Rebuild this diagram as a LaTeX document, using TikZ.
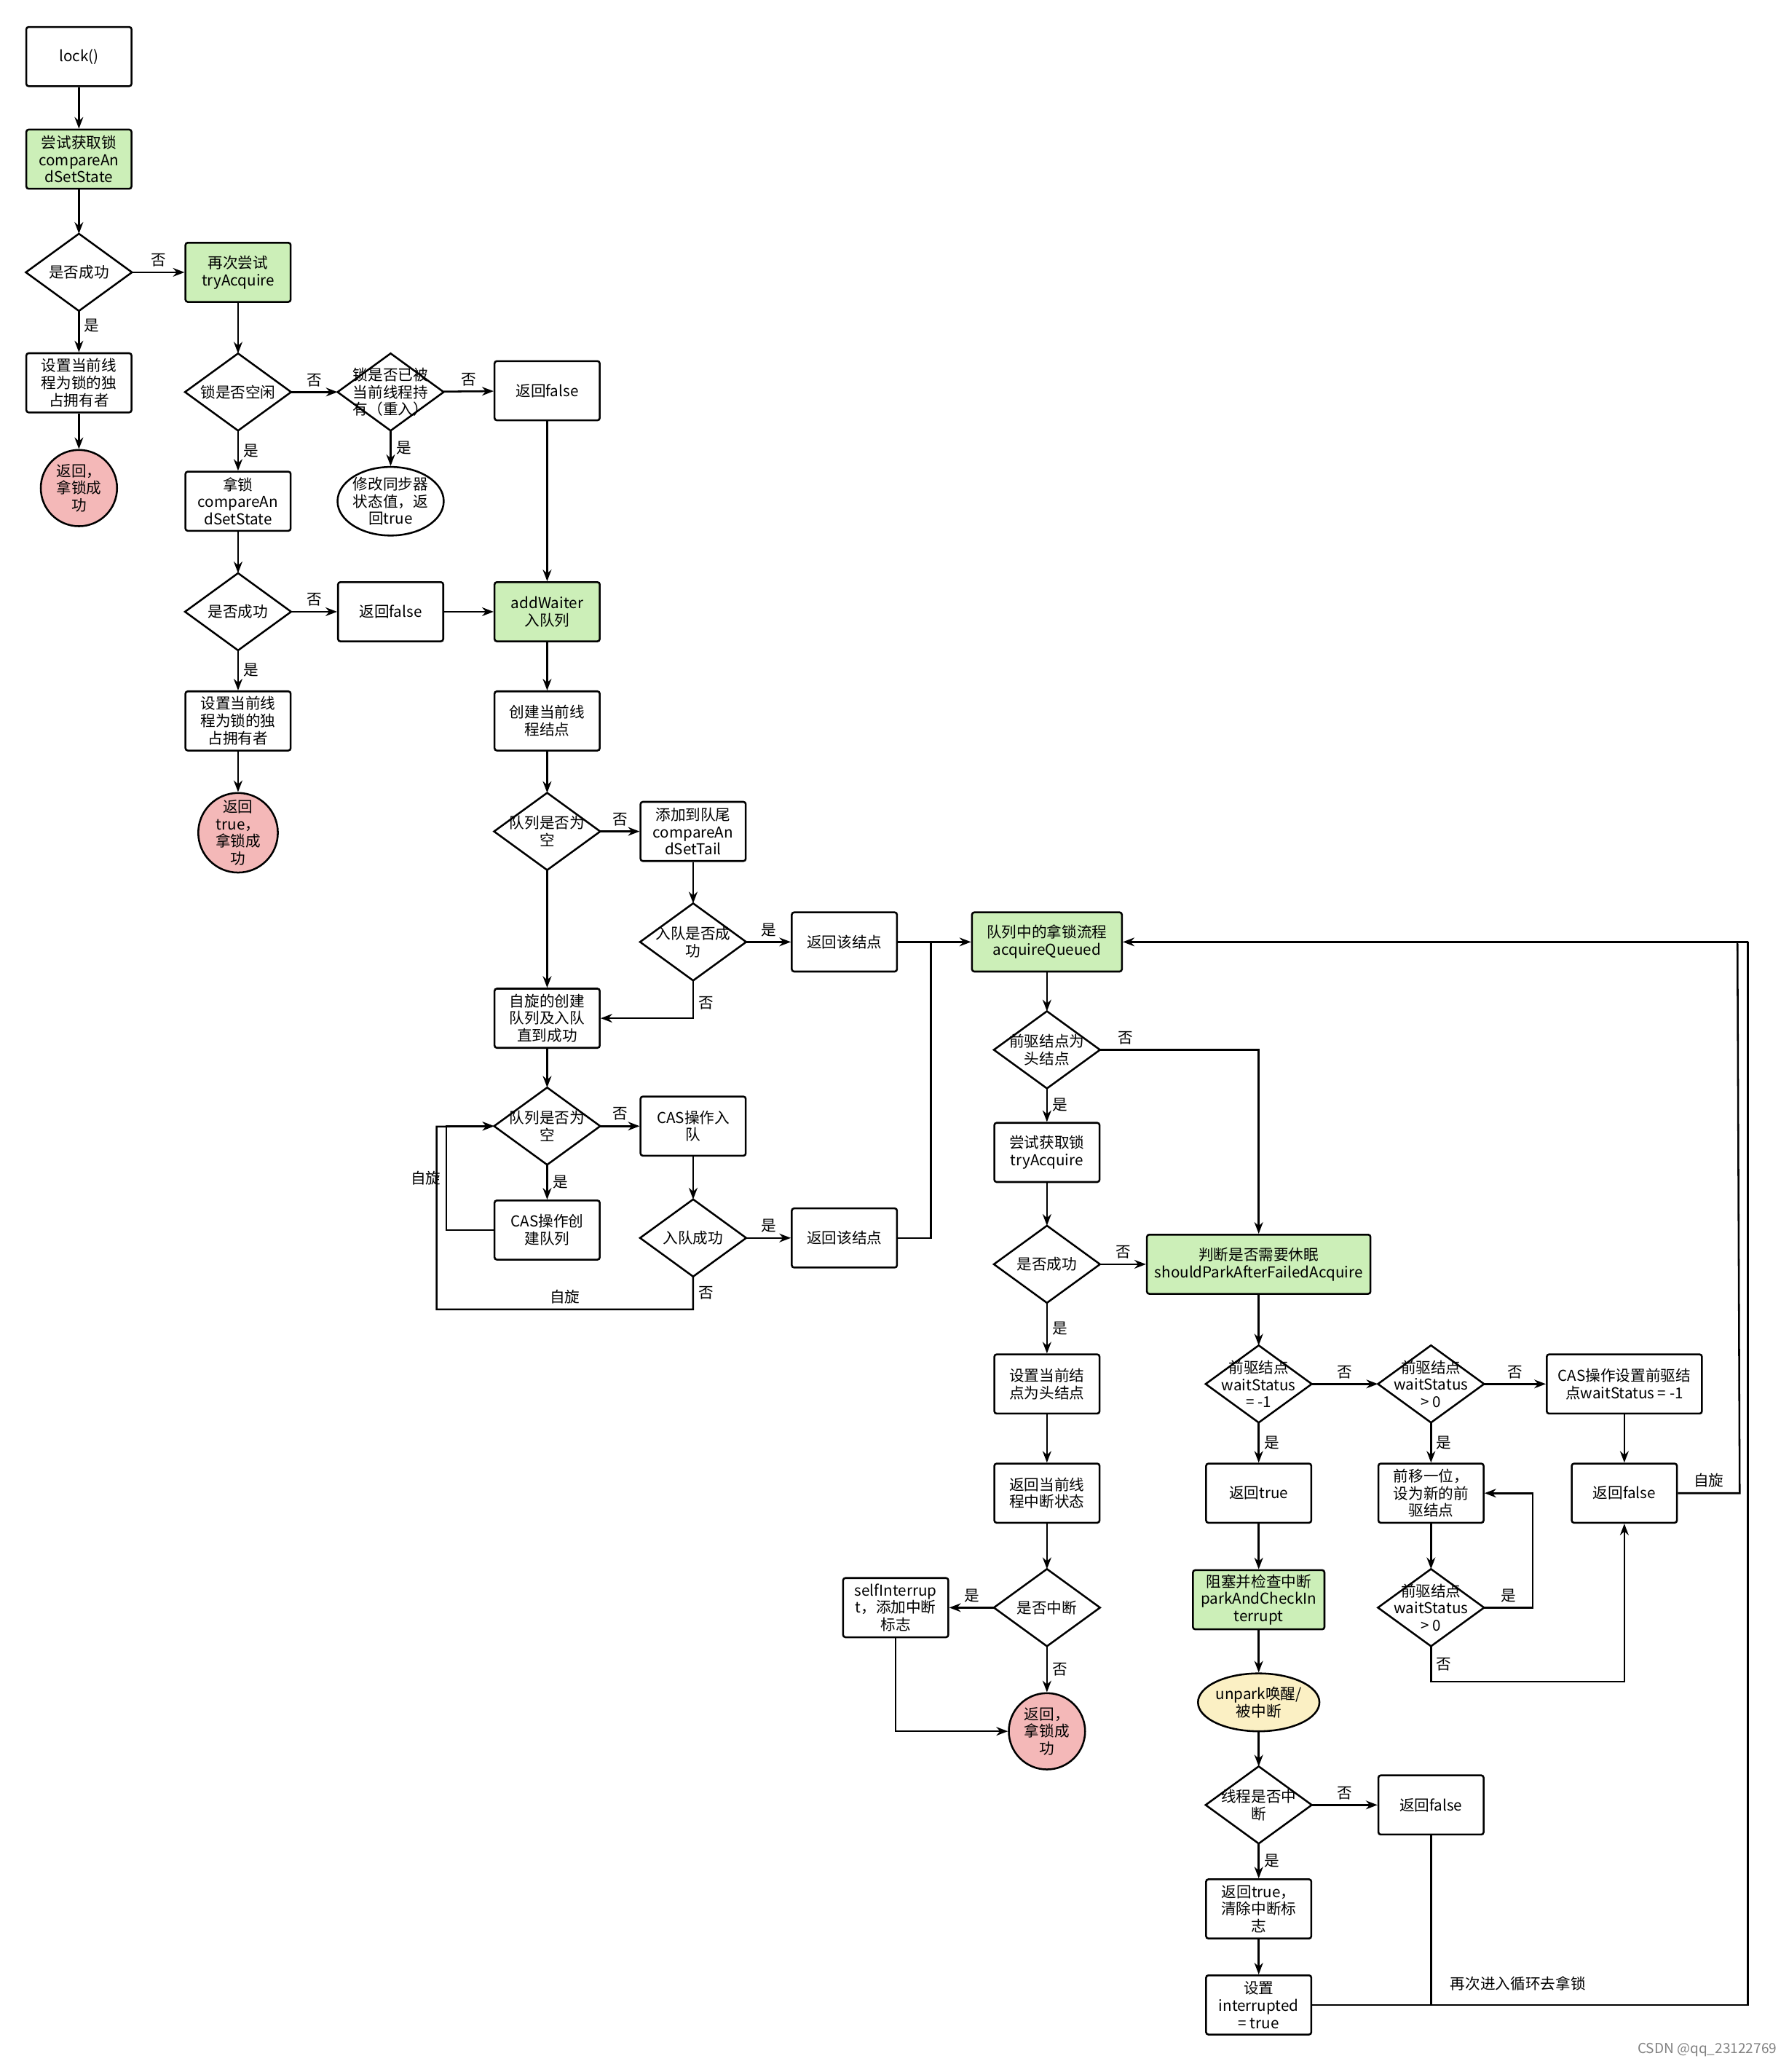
\documentclass[tikz,border=0pt]{standalone}
\usepackage{fontspec}
\setmainfont{Noto Sans CJK SC}
\usetikzlibrary{arrows.meta,shapes.geometric}
\definecolor{gfill}{HTML}{CCEFB8}
\definecolor{pfill}{HTML}{F4B8B8}
\definecolor{yfill}{HTML}{FBF0C4}
\tikzset{
  box/.style={draw,line width=0.8pt,rounded corners=1pt,minimum width=1.6cm,minimum height=0.9cm,
    align=center,inner sep=1pt,font=\fontsize{6.5}{7.5}\selectfont},
  gbox/.style={box,fill=gfill},
  dia/.style={minimum width=1.6cm,minimum height=1.16cm,inner sep=0,align=center,
    font=\fontsize{6.5}{7.5}\selectfont,
    append after command={\pgfextra{\draw[line width=0.8pt] (\tikzlastnode.west)--(\tikzlastnode.north)
      --(\tikzlastnode.east)--(\tikzlastnode.south)--cycle;}}},
  endc/.style={draw,circle,fill=pfill,line width=0.8pt,minimum size=1.16cm,inner sep=0,align=center,
    font=\fontsize{6.5}{7.5}\selectfont},
  ell/.style={draw,ellipse,line width=0.8pt,minimum width=1.6cm,minimum height=0.88cm,inner sep=0,
    align=center,font=\fontsize{6.5}{7.5}\selectfont},
  arr/.style={-{Stealth[length=5pt]},line width=0.8pt},
  lbl/.style={font=\fontsize{6.5}{7.5}\selectfont,inner sep=2pt}
}
\begin{document}
\begin{tikzpicture}[x=0.02cm,y=-0.02cm]
\useasboundingbox (0,0) rectangle (1360,1575);
% left column
\node[box] (lock) at (60,43) {lock()};
\node[gbox] (try1) at (60,121) {尝试获取锁\\compareAn\\dSetState};
\node[dia] (d1) at (60,207) {是否成功};
\node[box] (set1) at (60,291) {设置当前线\\程为锁的独\\占拥有者};
\node[endc] (ret1) at (60,371) {返回，\\拿锁成\\功};
% tryAcquire
\node[gbox] (tryAcq) at (181,207) {再次尝试\\tryAcquire};
\node[dia] (d2) at (181,298) {锁是否空闲};
\node[dia] (d3) at (297,298) {锁是否已被\\当前线程持\\有（重入）};
\node[ell] (modst) at (297,381) {修改同步器\\状态值，返\\回true};
\node[box] (rf1) at (416,297) {返回false};
\node[box] (grab) at (181,381) {拿锁\\compareAn\\dSetState};
\node[dia] (d4) at (181,465) {是否成功};
\node[box] (rf2) at (297,465) {返回false};
\node[box] (set2) at (181,548) {设置当前线\\程为锁的独\\占拥有者};
\node[endc] (ret2) at (181,633) {返回\\true，\\拿锁成\\功};
% addWaiter
\node[gbox] (addW) at (416,465) {addWaiter\\入队列};
\node[box] (create) at (416,548) {创建当前线\\程结点};
\node[dia] (d5) at (416,632) {队列是否为\\空};
\node[box] (addTail) at (527,632) {添加到队尾\\compareAn\\dSetTail};
\node[dia] (d6) at (527,716) {入队是否成\\功};
\node[box] (retN1) at (642,716) {返回该结点};
\node[box] (spin) at (416,774) {自旋的创建\\队列及入队\\直到成功};
\node[dia] (d7) at (416,856) {队列是否为\\空};
\node[box] (casQ) at (527,856) {CAS操作入\\队};
\node[box] (casC) at (416,935) {CAS操作创\\建队列};
\node[dia] (d8) at (527,941) {入队成功};
\node[box] (retN2) at (642,941) {返回该结点};
% acquireQueued
\node[gbox,minimum width=2.28cm] (acqQ) at (796,716) {队列中的拿锁流程\\acquireQueued};
\node[dia] (d9) at (796,798) {前驱结点为\\头结点};
\node[box] (tryA2) at (796,876) {尝试获取锁\\tryAcquire};
\node[dia] (d10) at (796,961) {是否成功};
\node[gbox,minimum width=3.4cm] (should) at (957,961) {判断是否需要休眠\\shouldParkAfterFailedAcquire};
\node[box] (setHead) at (796,1052) {设置当前结\\点为头结点};
\node[box] (retInt) at (796,1135) {返回当前线\\程中断状态};
\node[dia] (d11) at (796,1222) {是否中断};
\node[box] (self) at (681,1222) {selfInterrup\\t，添加中断\\标志};
\node[endc] (ret3) at (796,1316) {返回，\\拿锁成\\功};
% shouldPark
\node[dia] (d12) at (957,1052) {前驱结点\\waitStatus\\= -1};
\node[dia] (d13) at (1088,1052) {前驱结点\\waitStatus\\> 0};
\node[box,minimum width=2.36cm] (casSet) at (1235,1052) {CAS操作设置前驱结\\点waitStatus = -1};
\node[box] (rtrue) at (957,1135) {返回true};
\node[box] (move) at (1088,1135) {前移一位，\\设为新的前\\驱结点};
\node[box] (rf3) at (1235,1135) {返回false};
\node[dia] (d14) at (1088,1222) {前驱结点\\waitStatus\\> 0};
\node[gbox,minimum width=2cm] (park) at (957,1216) {阻塞并检查中断\\parkAndCheckIn\\terrupt};
\node[ell,fill=yfill] (unpark) at (957,1294) {unpark唤醒/\\被中断};
\node[dia] (d15) at (957,1372) {线程是否中\\断};
\node[box] (rf4) at (1088,1372) {返回false};
\node[box] (clr) at (957,1451) {返回true，\\清除中断标\\志};
\node[box] (setI) at (957,1524) {设置\\interrupted\\= true};
\coordinate (jA) at (1321,716);
\coordinate (jB) at (1329,716);
\node[font=\fontsize{6}{7}\selectfont,text=gray] (mark) at (1298,1558) {CSDN @qq\_23122769};

\draw[arr] (lock) -- (try1);
\draw[arr] (try1) -- (d1);
\draw[arr] (d1) -- node[lbl,pos=0.35,right]{是} (set1);
\draw[arr] (set1) -- (ret1);
\draw[arr] (d1) -- node[lbl,above]{否} (tryAcq);
\draw[arr] (tryAcq) -- (d2);
\draw[arr] (d2) -- node[lbl,above]{否} (d3);
\draw[arr] (d3) -- node[lbl,above]{否} (rf1);
\draw[arr] (d3) -- node[lbl,right]{是} (modst);
\draw[arr] (d2) -- node[lbl,right]{是} (grab);
\draw[arr] (grab) -- (d4);
\draw[arr] (d4) -- node[lbl,above]{否} (rf2);
\draw[arr] (rf2) -- (addW);
\draw[arr] (rf1) -- (addW);
\draw[arr] (d4) -- node[lbl,right]{是} (set2);
\draw[arr] (set2) -- (ret2);
\draw[arr] (addW) -- (create);
\draw[arr] (create) -- (d5);
\draw[arr] (d5) -- node[lbl,above]{否} (addTail);
\draw[arr] (addTail) -- (d6);
\draw[arr] (d6) -- node[lbl,above]{是} (retN1);
\draw[arr] (d6.south) |- node[lbl,pos=0.3,right]{否} (spin.east);
\draw[arr] (d5) -- (spin);
\draw[arr] (spin) -- (d7);
\draw[arr] (d7) -- node[lbl,above]{否} (casQ);
\draw[arr] (d7) -- node[lbl,right]{是} (casC);
\draw[arr] (casQ) -- (d8);
\draw[arr] (d8) -- node[lbl,above]{是} (retN2);
\draw[arr] (casC.west) -- ++(-36,0) |- node[lbl,pos=0.25,left]{自旋} (d7.west);
\draw[arr] (d8.south) -- node[lbl,right]{否} ++(0,25) -| node[lbl,pos=0.25,above]{自旋} ++(-195,-139) -- (d7.west);
\draw[arr] (retN1) -- (acqQ);
\draw[line width=0.8pt] (retN2.east) -- ++(25,0) -- ++(0,-225);
\draw[arr] (acqQ) -- (d9);
\draw[arr] (d9) -- node[lbl,right]{是} (tryA2);
\draw[arr] (d9.east) -| node[lbl,pos=0.08,above]{否} (should.north);
\draw[arr] (tryA2) -- (d10);
\draw[arr] (d10) -- node[lbl,above]{否} (should);
\draw[arr] (d10) -- node[lbl,right]{是} (setHead);
\draw[arr] (setHead) -- (retInt);
\draw[arr] (retInt) -- (d11);
\draw[arr] (d11) -- node[lbl,above]{是} (self);
\draw[arr] (d11) -- node[lbl,right]{否} (ret3);
\draw[arr] (self.south) |- (ret3.west);
\draw[arr] (should) -- (d12);
\draw[arr] (d12) -- node[lbl,above]{否} (d13);
\draw[arr] (d13) -- node[lbl,above]{否} (casSet);
\draw[arr] (casSet) -- (rf3);
\draw[arr] (d12) -- node[lbl,right]{是} (rtrue);
\draw[arr] (d13) -- node[lbl,right]{是} (move);
\draw[arr] (move) -- (d14);
\draw[arr] (d14.east) -- node[lbl,above]{是} ++(37,0) |- (move.east);
\draw[arr] (d14.south) -- node[lbl,right]{否} ++(0,27) -| (rf3.south);
\draw[arr] (rtrue) -- (park);
\draw[arr] (park) -- (unpark);
\draw[arr] (unpark) -- (d15);
\draw[arr] (d15) -- node[lbl,above]{否} (rf4);
\draw[arr] (d15) -- node[lbl,right]{是} (clr);
\draw[arr] (clr) -- (setI);
\draw[line width=0.8pt] (rf3.east) -- node[lbl,above]{自旋} ++(47,0) -- (jA);
\draw[line width=0.8pt] (setI.east) -| (jB);
\draw[arr] (jB) -- (acqQ.east);
\draw[line width=0.8pt] (rf4.south) -- ++(0,129) node[lbl,above right,xshift=6pt,yshift=4pt]{再次进入循环去拿锁};
\end{tikzpicture}
\end{document}
